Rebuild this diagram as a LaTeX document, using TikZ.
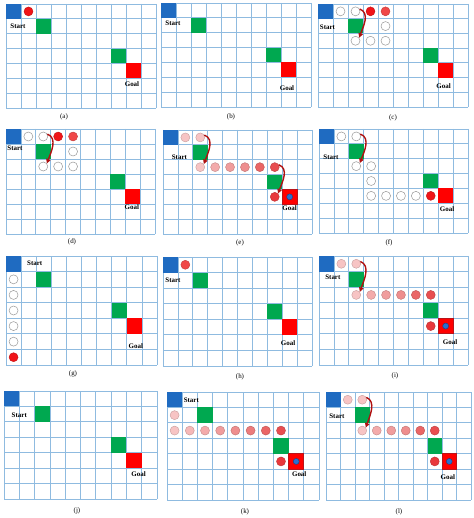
\documentclass[tikz,border=0pt]{standalone}
\usepackage{fontspec}
\setmainfont{Liberation Serif}
\usetikzlibrary{arrows.meta}
\definecolor{gridc}{HTML}{8FBBE0}
\definecolor{bluec}{HTML}{1F6BC1}
\definecolor{greenc}{HTML}{00A850}
\definecolor{redc}{HTML}{FF0000}
\definecolor{darkred}{HTML}{B8141A}
\definecolor{arrc}{HTML}{B01010}
\definecolor{bdotc}{HTML}{2A6FD0}
\definecolor{rA}{HTML}{F01418}
\definecolor{rB}{HTML}{F04848}
\definecolor{rC}{HTML}{E8383C}
\definecolor{pA}{HTML}{F7C4C4}
\definecolor{pB}{HTML}{F5B8B8}
\definecolor{pC}{HTML}{F3ABAB}
\definecolor{pD}{HTML}{F09D9D}
\definecolor{pE}{HTML}{EE8E8E}
\definecolor{pF}{HTML}{EC7C7C}
\definecolor{pG}{HTML}{EA6666}
\definecolor{pH}{HTML}{E84E50}
\tikzset{
  gl/.style={draw=gridc, line width=0.8bp},
  hol/.style={circle, draw=black!40, fill=white, line width=0.5bp, minimum size=9bp, inner sep=0pt},
  dotc/.style={circle, fill=#1, draw=#1!80!black, line width=0.4bp, minimum size=9bp, inner sep=0pt},
  bdot/.style={circle, fill=bdotc, draw=bdotc!60!black, line width=0.4bp, minimum size=6bp, inner sep=0pt},
  arr/.style={draw=arrc, line width=1.4bp, -{Triangle[length=4.5bp,width=4.5bp]}},
  lbl/.style={font=\bfseries\fontsize{7}{7}\selectfont, inner sep=0pt},
  captxt/.style={font=\fontsize{7}{7}\selectfont, inner sep=0pt}
}
\newcommand\basegrid{%
  \foreach \i in {0,...,10} \draw[gl] (\i,0) -- (\i,7);
  \foreach \j in {0,...,7} \draw[gl] (0,\j) -- (10,\j);
  \fill[bluec] (0,0) rectangle (1,1);
  \fill[greenc] (2,1) rectangle (3,2);
  \fill[greenc] (7,3) rectangle (8,4);
  \fill[redc] (8,4) rectangle (9,5);
}
\newcommand\goaldot[1]{%
  \draw[darkred, line width=1bp] (8,4) rectangle (9,5);
  \node[bdot] (#1) at (8.5,4.5) {};
}
\begin{document}
\begin{tikzpicture}[x=1bp, y=-1bp]
\useasboundingbox[fill=white] (0,0) rectangle (474,518);

% (a)
\begin{scope}[shift={(6,4)}, xscale=15, yscale=14.857]
  \basegrid
  \node[dotc=rA] (a10) at (1.5,0.5) {};
  \node[lbl] (aS) at (0.8,1.48) {Start};
  \node[lbl] (aG) at (8.4,5.38) {Goal};
\end{scope}
\node[captxt] (capa) at (64,117) {(a)};

% (b)
\begin{scope}[shift={(161,3)}, xscale=15, yscale=14.857]
  \basegrid
  \node[lbl] (bS) at (0.8,1.35) {Start};
  \node[lbl] (bG) at (8.4,5.7) {Goal};
\end{scope}
\node[captxt] (capb) at (231,117) {(b)};

% (c)
\begin{scope}[shift={(318,4)}, xscale=15, yscale=14.714]
  \basegrid
  \node[hol] (c10) at (1.5,0.5) {};
  \node[hol] (c20) at (2.5,0.5) {};
  \node[dotc=rA] (c30) at (3.5,0.5) {};
  \node[dotc=rB] (c40) at (4.5,0.5) {};
  \node[hol] (c41) at (4.5,1.5) {};
  \node[hol] (c22) at (2.5,2.5) {};
  \node[hol] (c32) at (3.5,2.5) {};
  \node[hol] (c42) at (4.5,2.5) {};
  \draw[arr] (c20.30) to[out=-20,in=70] (c22.40);
  \node[lbl] (cS) at (0.63,1.55) {Start};
  \node[lbl] (cG) at (8.37,5.6) {Goal};
\end{scope}
\node[captxt] (capc) at (393,118) {(c)};

% (d)
\begin{scope}[shift={(6,129)}, xscale=14.9, yscale=15]
  \basegrid
  \node[hol] (d10) at (1.5,0.5) {};
  \node[hol] (d20) at (2.5,0.5) {};
  \node[dotc=rA] (d30) at (3.5,0.5) {};
  \node[dotc=rB] (d40) at (4.5,0.5) {};
  \node[hol] (d41) at (4.5,1.5) {};
  \node[hol] (d22) at (2.5,2.5) {};
  \node[hol] (d32) at (3.5,2.5) {};
  \node[hol] (d42) at (4.5,2.5) {};
  \draw[arr] (d20.30) to[out=-20,in=70] (d22.40);
  \node[lbl] (dS) at (0.6,1.27) {Start};
  \node[lbl] (dG) at (8.45,5.2) {Goal};
\end{scope}
\node[captxt] (capd) at (72,242) {(d)};

% (e)
\begin{scope}[shift={(163,130)}, xscale=14.9, yscale=14.857]
  \basegrid
  \node[dotc=pA] (e10) at (1.5,0.5) {};
  \node[dotc=pA] (e20) at (2.5,0.5) {};
  \node[dotc=pA] (e22) at (2.5,2.5) {};
  \node[dotc=pC] (e32) at (3.5,2.5) {};
  \node[dotc=pD] (e42) at (4.5,2.5) {};
  \node[dotc=pE] (e52) at (5.5,2.5) {};
  \node[dotc=pG] (e62) at (6.5,2.5) {};
  \node[dotc=pH] (e72) at (7.5,2.5) {};
  \node[dotc=rC] (e74) at (7.5,4.5) {};
  \goaldot{eB}
  \draw[arr] (e20.30) to[out=-20,in=70] (e22.40);
  \draw[arr] (e72.30) to[out=-20,in=70] (e74.45);
  \node[lbl] (eS) at (1.1,1.8) {Start};
  \node[lbl] (eG) at (8.5,5.25) {Goal};
\end{scope}
\node[captxt] (cape) at (240,243) {(e)};

% (f)
\begin{scope}[shift={(319,129)}, xscale=14.9, yscale=14.857]
  \basegrid
  \node[hol] (f10) at (1.5,0.5) {};
  \node[hol] (f20) at (2.5,0.5) {};
  \node[hol] (f22) at (2.5,2.5) {};
  \node[hol] (f32) at (3.5,2.5) {};
  \node[hol] (f33) at (3.5,3.5) {};
  \node[hol] (f34) at (3.5,4.5) {};
  \node[hol] (f44) at (4.5,4.5) {};
  \node[hol] (f54) at (5.5,4.5) {};
  \node[hol] (f64) at (6.5,4.5) {};
  \node[dotc=rA] (f74) at (7.5,4.5) {};
  \draw[arr] (f20.30) to[out=-20,in=70] (f22.40);
  \node[lbl] (fS) at (0.8,1.9) {Start};
  \node[lbl] (fG) at (8.6,5.4) {Goal};
\end{scope}
\node[captxt] (capf) at (389,243) {(f)};

% (g)
\begin{scope}[shift={(6,256)}, xscale=15.1, yscale=15.571]
  \basegrid
  \foreach \r in {1,...,5} \node[hol] (g0\r) at (0.5,\r+0.5) {};
  \node[dotc=rA] (g06) at (0.5,6.5) {};
  \node[lbl] (gS) at (1.9,0.45) {Start};
  \node[lbl] (gG) at (8.6,5.8) {Goal};
\end{scope}
\node[captxt] (capg) at (73,374) {(g)};

% (h)
\begin{scope}[shift={(163,257)}, xscale=14.9, yscale=15.571]
  \basegrid
  \node[dotc=rB] (h10) at (1.5,0.5) {};
  \node[lbl] (hS) at (0.67,1.5) {Start};
  \node[lbl] (hG) at (8.4,5.5) {Goal};
\end{scope}
\node[captxt] (caph) at (240,377) {(h)};

% (i)
\begin{scope}[shift={(319,256)}, xscale=14.9, yscale=15.571]
  \basegrid
  \node[dotc=pA] (i10) at (1.5,0.5) {};
  \node[dotc=pA] (i20) at (2.5,0.5) {};
  \node[dotc=pA] (i22) at (2.5,2.5) {};
  \node[dotc=pC] (i32) at (3.5,2.5) {};
  \node[dotc=pD] (i42) at (4.5,2.5) {};
  \node[dotc=pE] (i52) at (5.5,2.5) {};
  \node[dotc=pG] (i62) at (6.5,2.5) {};
  \node[dotc=pH] (i72) at (7.5,2.5) {};
  \node[dotc=rC] (i74) at (7.5,4.5) {};
  \goaldot{iB}
  \draw[arr] (i20.30) to[out=-20,in=70] (i22.40);
  \node[lbl] (iS) at (0.93,1.35) {Start};
  \node[lbl] (iG) at (8.8,5.5) {Goal};
\end{scope}
\node[captxt] (capi) at (395,376) {(i)};

% (j)
\begin{scope}[shift={(4,391)}, xscale=15.3, yscale=15.43]
  \basegrid
  \node[lbl] (jS) at (1.0,1.6) {Start};
  \node[lbl] (jG) at (8.8,5.4) {Goal};
\end{scope}
\node[captxt] (capj) at (77,511) {(j)};

% (k)
\begin{scope}[shift={(167,392)}, xscale=15.2, yscale=15.43]
  \basegrid
  \node[dotc=pA] (k01) at (0.5,1.5) {};
  \node[dotc=pA] (k02) at (0.5,2.5) {};
  \node[dotc=pB] (k12) at (1.5,2.5) {};
  \node[dotc=pC] (k22) at (2.5,2.5) {};
  \node[dotc=pD] (k32) at (3.5,2.5) {};
  \node[dotc=pE] (k42) at (4.5,2.5) {};
  \node[dotc=pF] (k52) at (5.5,2.5) {};
  \node[dotc=pG] (k62) at (6.5,2.5) {};
  \node[dotc=pH] (k72) at (7.5,2.5) {};
  \node[dotc=rC] (k74) at (7.5,4.5) {};
  \goaldot{kB}
  \node[lbl] (kS) at (1.6,0.55) {Start};
  \node[lbl] (kG) at (8.7,5.3) {Goal};
\end{scope}
\node[captxt] (capk) at (245,512) {(k)};

% (l)
\begin{scope}[shift={(326,392)}, xscale=14.5, yscale=15.43]
  \basegrid
  \node[dotc=pA] (l10) at (1.5,0.5) {};
  \node[dotc=pA] (l20) at (2.5,0.5) {};
  \node[dotc=pA] (l22) at (2.5,2.5) {};
  \node[dotc=pC] (l32) at (3.5,2.5) {};
  \node[dotc=pD] (l42) at (4.5,2.5) {};
  \node[dotc=pE] (l52) at (5.5,2.5) {};
  \node[dotc=pG] (l62) at (6.5,2.5) {};
  \node[dotc=pH] (l72) at (7.5,2.5) {};
  \node[dotc=rC] (l74) at (7.5,4.5) {};
  \goaldot{lB}
  \draw[arr] (l20.30) to[out=-20,in=70] (l22.40);
  \node[lbl] (lS) at (0.75,1.55) {Start};
  \node[lbl] (lG) at (8.4,5.5) {Goal};
\end{scope}
\node[captxt] (capl) at (399,512) {(l)};
\end{tikzpicture}
\end{document}
